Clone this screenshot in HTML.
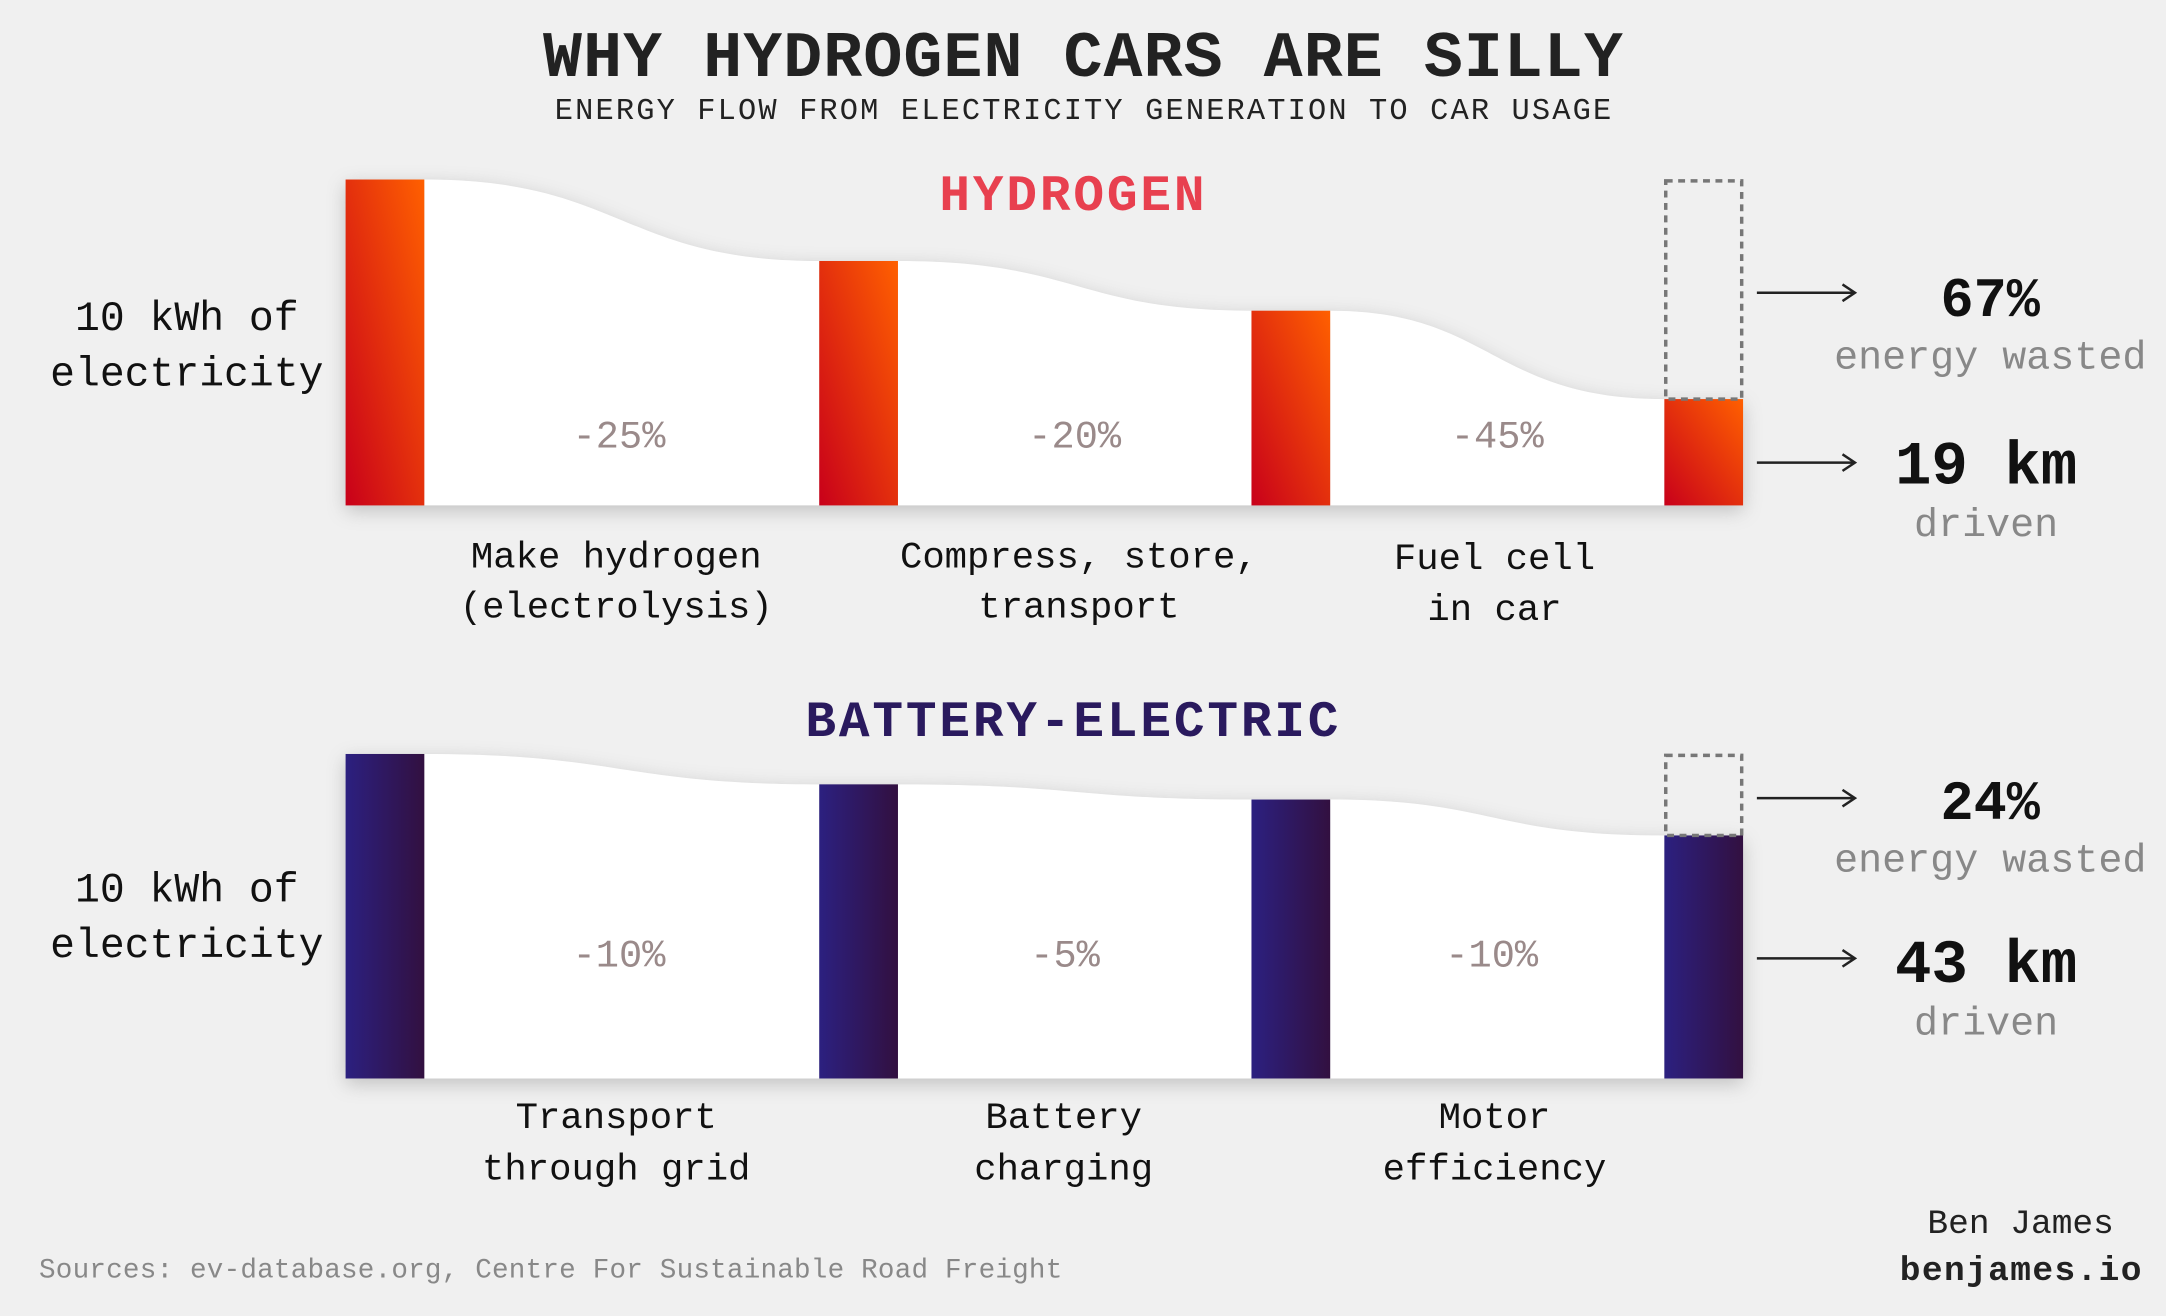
<!DOCTYPE html>
<html><head><meta charset="utf-8"><style>
html,body{margin:0;padding:0;background:#f0f0f0;}
svg{display:block;}
text{font-family:"Liberation Mono","DejaVu Sans Mono",monospace;}
</style></head><body>
<svg width="2166" height="1316" viewBox="0 0 1568 953" xmlns="http://www.w3.org/2000/svg">
<defs>
<linearGradient id="hg" x1="0" y1="1" x2="1" y2="0">
<stop offset="0" stop-color="#c8001a"/><stop offset="1" stop-color="#ff6000"/></linearGradient>
<linearGradient id="bg" x1="0" y1="0" x2="1" y2="0">
<stop offset="0" stop-color="#2c2080"/><stop offset="1" stop-color="#321040"/></linearGradient>
<filter id="sh" x="-10%" y="-20%" width="120%" height="140%"><feGaussianBlur stdDeviation="7"/></filter>
</defs>
<rect width="1568" height="953" fill="#f0f0f0"/>
<text x="784" y="55" text-anchor="middle" font-size="47" font-weight="bold" fill="#222" textLength="782">WHY HYDROGEN CARS ARE SILLY</text>
<text x="784" y="86" text-anchor="middle" font-size="22" fill="#222" textLength="765">ENERGY FLOW FROM ELECTRICITY GENERATION TO CAR USAGE</text>
<text x="776" y="152" text-anchor="middle" font-size="37" font-weight="bold" fill="#e8404f" textLength="192">HYDROGEN</text>
<text x="776" y="533" text-anchor="middle" font-size="37" font-weight="bold" fill="#2a1a5e" textLength="386">BATTERY-ELECTRIC</text>

<g filter="url(#sh)" opacity="0.45" fill="#888">
<path d="M250,134 L307,134 C450,134 450,193 593,193 L650,193 C780,193 780,229 906,229 L963,229 C1080,229 1080,293 1205,293 L1262,293 L1262,370 L250,370 Z"/>
<path d="M250,550 L307,550 C450,550 450,572 593,572 L650,572 C780,572 780,583 906,583 L963,583 C1080,583 1080,609 1205,609 L1262,609 L1262,785 L250,785 Z"/>
</g>
<path d="M307,130 C450,130 450,189 593,189 L593,366 L307,366 Z" fill="#fff"/>
<path d="M650,189 C780,189 780,225 906,225 L906,366 L650,366 Z" fill="#fff"/>
<path d="M963,225 C1080,225 1080,289 1205,289 L1205,366 L963,366 Z" fill="#fff"/>
<rect x="250" y="130" width="57" height="236" fill="url(#hg)"/>
<rect x="593" y="189" width="57" height="177" fill="url(#hg)"/>
<rect x="906" y="225" width="57" height="141" fill="url(#hg)"/>
<rect x="1205" y="289" width="57" height="77" fill="url(#hg)"/>
<rect x="1206" y="131" width="55" height="158" fill="none" stroke="#777" stroke-width="2.5" stroke-dasharray="5,4"/>

<path d="M307,546 C450,546 450,568 593,568 L593,781 L307,781 Z" fill="#fff"/>
<path d="M650,568 C780,568 780,579 906,579 L906,781 L650,781 Z" fill="#fff"/>
<path d="M963,579 C1080,579 1080,605 1205,605 L1205,781 L963,781 Z" fill="#fff"/>
<rect x="250" y="546" width="57" height="235" fill="url(#bg)"/>
<rect x="593" y="568" width="57" height="213" fill="url(#bg)"/>
<rect x="906" y="579" width="57" height="202" fill="url(#bg)"/>
<rect x="1205" y="605" width="57" height="176" fill="url(#bg)"/>
<rect x="1206" y="547" width="55" height="58" fill="none" stroke="#777" stroke-width="2.5" stroke-dasharray="5,4"/>

<g font-size="28" fill="#9a8a8a" text-anchor="middle">
<text x="448" y="324">-25%</text><text x="778" y="324">-20%</text><text x="1084" y="324">-45%</text>
<text x="448" y="700">-10%</text><text x="771" y="700">-5%</text><text x="1080" y="700">-10%</text>
</g>
<g font-size="27" fill="#111" text-anchor="middle">
<text x="446" y="411">Make hydrogen</text><text x="446" y="447">(electrolysis)</text>
<text x="781" y="411">Compress, store,</text><text x="781" y="447">transport</text>
<text x="1082" y="412">Fuel cell</text><text x="1082" y="449">in car</text>
<text x="446" y="817">Transport</text><text x="446" y="854">through grid</text>
<text x="770" y="817">Battery</text><text x="770" y="854">charging</text>
<text x="1082" y="817">Motor</text><text x="1082" y="854">efficiency</text>
</g>
<g font-size="30" fill="#111" text-anchor="middle">
<text x="135" y="239">10 kWh of</text><text x="135" y="279">electricity</text>
<text x="135" y="653">10 kWh of</text><text x="135" y="693">electricity</text>
</g>
<g stroke="#222" stroke-width="1.8" fill="none">
<path d="M1272,212 H1343 M1334,206 L1343,212 L1334,218"/>
<path d="M1272,335 H1343 M1334,329 L1343,335 L1334,341"/>
<path d="M1272,578 H1343 M1334,572 L1343,578 L1334,584"/>
<path d="M1272,694 H1343 M1334,688 L1343,694 L1334,700"/>
</g>
<g text-anchor="middle">
<text x="1441" y="229" font-size="40" font-weight="bold" fill="#111">67%</text>
<text x="1441" y="267" font-size="29" fill="#888">energy wasted</text>
<text x="1438" y="350" font-size="44" font-weight="bold" fill="#111">19 km</text>
<text x="1438" y="388" font-size="29" fill="#888">driven</text>
<text x="1441" y="593" font-size="40" font-weight="bold" fill="#111">24%</text>
<text x="1441" y="631" font-size="29" fill="#888">energy wasted</text>
<text x="1438" y="711" font-size="44" font-weight="bold" fill="#111">43 km</text>
<text x="1438" y="749" font-size="29" fill="#888">driven</text>
<text x="1463" y="893" font-size="25" fill="#222">Ben James</text>
<text x="1463" y="927" font-size="25" font-weight="bold" fill="#222" textLength="175">benjames.io</text>
</g>
<text x="28" y="925" font-size="20" fill="#888" textLength="741">Sources: ev-database.org, Centre For Sustainable Road Freight</text>
</svg>
</body></html>
